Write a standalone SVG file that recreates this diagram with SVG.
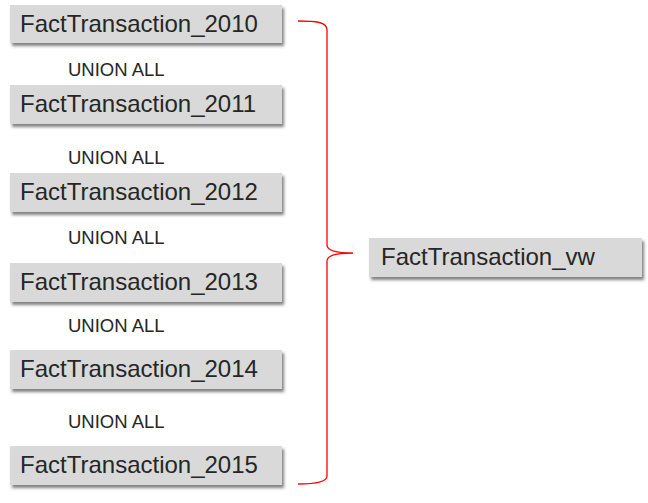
<svg xmlns="http://www.w3.org/2000/svg" width="648" height="503" viewBox="0 0 648 503">
<style>
.box{fill:#d9d9d9;filter:url(#sh)}
.t{font-family:"Liberation Sans",Arial,sans-serif;font-size:24px;fill:#262626}
.u{font-family:"Liberation Sans",Arial,sans-serif;font-size:18.5px;fill:#262626}
.brace{fill:none;stroke:#ff0000;stroke-width:1.3}
</style>
<defs>
<filter id="sh" x="-5%" y="-20%" width="112%" height="160%">
<feDropShadow dx="2" dy="3" stdDeviation="1.5" flood-color="#404040" flood-opacity="0.65"/>
</filter>
</defs>
<rect width="648" height="503" fill="#ffffff"/>
<g id="t2010"><rect class="box" x="10" y="5" width="272" height="38"/><text class="t" x="20" y="32">FactTransaction_2010</text></g>
<g id="t2011"><rect class="box" x="10" y="85" width="272" height="39"/><text class="t" x="20" y="112">FactTransaction_2011</text></g>
<g id="t2012"><rect class="box" x="10" y="173" width="272" height="39"/><text class="t" x="20" y="200">FactTransaction_2012</text></g>
<g id="t2013"><rect class="box" x="10" y="263" width="272" height="39"/><text class="t" x="20" y="290">FactTransaction_2013</text></g>
<g id="t2014"><rect class="box" x="10" y="350" width="272" height="39"/><text class="t" x="20" y="377">FactTransaction_2014</text></g>
<g id="t2015"><rect class="box" x="10" y="446" width="272" height="39"/><text class="t" x="20" y="473">FactTransaction_2015</text></g>
<g id="vw"><rect class="box" x="369" y="238" width="273" height="39"/><text class="t" x="381" y="265">FactTransaction_vw</text></g>
<g id="labels">
<text class="u" x="68" y="76">UNION ALL</text>
<text class="u" x="68" y="164">UNION ALL</text>
<text class="u" x="68" y="244">UNION ALL</text>
<text class="u" x="68" y="332">UNION ALL</text>
<text class="u" x="68" y="428">UNION ALL</text>
</g>
<g id="connectors">
<path class="brace" d="M298,21 C316,21 327,22 327,30 L327,245 C327,250 333,253 353,253 C333,253 327,256 327,261 L327,476 C327,482 316,484 298,484"/>
</g>
</svg>
